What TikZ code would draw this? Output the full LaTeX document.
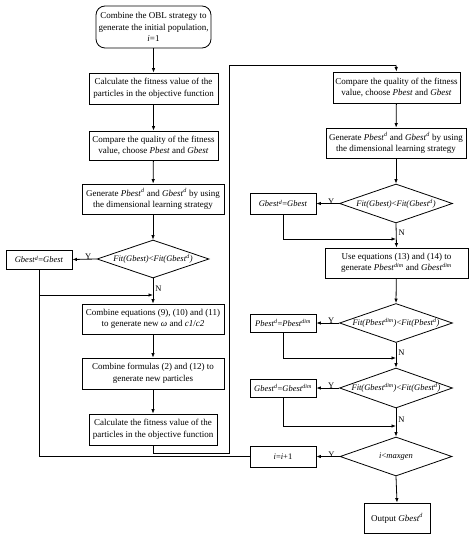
\documentclass[tikz,border=0pt]{standalone}
\usepackage{fontspec}
\setmainfont{Liberation Serif}
\usetikzlibrary{shapes.geometric,arrows.meta}
\newcommand{\ib}[1]{\textit{#1}}
\newcommand{\sps}[1]{\textsuperscript{\textit{#1}}}
\begin{document}
\begin{tikzpicture}[x=1pt,y=-1pt,
  every node/.style={font=\fontsize{9}{11.5}\selectfont, inner sep=0pt},
  box/.style={draw, line width=0.8pt, rectangle, align=center},
  sbox/.style={box, font=\fontsize{8.5}{10}\selectfont},
  dia/.style={draw, line width=0.8pt, diamond, inner sep=0pt, aspect=3},
  dtext/.style={font=\fontsize{8.5}{10}\selectfont},
  lab/.style={font=\fontsize{8.5}{10}\selectfont},
  arr/.style={line width=0.8pt, -{Latex[length=4.5pt,width=3.5pt]}},
  ln/.style={line width=0.8pt}]
\useasboundingbox (0,0) rectangle (474,540);
\fill[white] (0,0) rectangle (474,540);
% left column
\node[box, rounded corners=9pt, minimum width=115pt, minimum height=42pt] (start) at (153.5,27) {Combine the OBL strategy to\\generate the initial population,\\\ib{i}=1};
\node[box, minimum width=129pt, minimum height=31pt] (calc1) at (153.5,88.5) {Calculate the fitness value of the\\particles in the objective function};
\node[box, minimum width=129pt, minimum height=29pt] (cmp1) at (153.5,145.5) {Compare the quality of the fitness\\value, choose \ib{Pbest} and \ib{Gbest}};
\node[box, minimum width=142pt, minimum height=30pt] (gen1) at (153,199) {Generate \ib{Pbest}\sps{d} and \ib{Gbest}\sps{d} by using\\the dimensional learning strategy};
\node[dia, minimum width=112pt, minimum height=38pt] (dia1) at (153,259) {};
\node[dtext] at (dia1.center) {\ib{Fit(Gbest)}<\ib{Fit(Gbest}\sps{d}\ib{)}};
\node[sbox, minimum width=66pt, minimum height=19pt] (gb1) at (39,259.5) {\ib{Gbest}\sps{d}=\ib{Gbest}};
\node[box, minimum width=142pt, minimum height=30pt] (comb1) at (153,319) {Combine equations (9), (10) and (11)\\to generate new \ib{ω} and \ib{c1}/\ib{c2}};
\node[box, minimum width=142pt, minimum height=31pt] (comb2) at (153,373.5) {Combine formulas (2) and (12) to\\generate new particles};
\node[box, minimum width=128pt, minimum height=31pt] (calc2) at (153,429.5) {Calculate the fitness value of the\\particles in the objective function};
% right column
\node[box, minimum width=127pt, minimum height=31pt] (cmp2) at (396.5,87.5) {Compare the quality of the fitness\\value, choose \ib{Pbest} and \ib{Gbest}};
\node[box, minimum width=140pt, minimum height=30pt] (gen2) at (396,143) {Generate \ib{Pbest}\sps{d} and \ib{Gbest}\sps{d} by using\\the dimensional learning strategy};
\node[dia, minimum width=113pt, minimum height=39pt] (dia2) at (396,203.5) {};
\node[dtext] at (dia2.center) {\ib{Fit(Gbest)}<\ib{Fit(Gbest}\sps{d}\ib{)}};
\node[sbox, minimum width=66pt, minimum height=21pt] (gb2) at (283,203.5) {\ib{Gbest}\sps{d}=\ib{Gbest}};
\node[box, minimum width=143pt, minimum height=30pt] (use) at (396.5,263) {Use equations (13) and (14) to\\generate \ib{Pbest}\sps{dim} and \ib{Gbest}\sps{dim}};
\node[dia, minimum width=113pt, minimum height=39pt] (dia3) at (396,323) {};
\node[dtext] at (dia3.center) {\ib{Fit(Pbest}\sps{dim}\ib{)}<\ib{Fit(Pbest}\sps{d}\ib{)}};
\node[sbox, minimum width=66pt, minimum height=18pt] (pb) at (283,323) {\ib{Pbest}\sps{d}=\ib{Pbest}\sps{dim}};
\node[dia, minimum width=113pt, minimum height=40pt] (dia4) at (396,388) {};
\node[dtext] at (dia4.center) {\ib{Fit(Gbest}\sps{dim}\ib{)}<\ib{Fit(Gbest}\sps{d}\ib{)}};
\node[sbox, minimum width=66pt, minimum height=18pt] (gb3) at (283,388) {\ib{Gbest}\sps{d}=\ib{Gbest}\sps{dim}};
\node[dia, minimum width=112pt, minimum height=39pt] (dia5) at (396,456.5) {};
\node[dtext] at (dia5.center) {\ib{i}<\ib{maxgen}};
\node[sbox, minimum width=66pt, minimum height=21pt] (inc) at (283,456.5) {\ib{i}=\ib{i}+1};
\node[box, minimum width=66pt, minimum height=30pt] (out) at (397,518) {Output \ib{Gbest}\sps{d}};
% coordinates
\coordinate (j1) at (153,295);
\coordinate (l1) at (39,295);
\coordinate (l2) at (39,456.5);
\coordinate (b1) at (153,453);
\coordinate (b2) at (229,453);
\coordinate (t1) at (229,65);
\coordinate (t2) at (396,65);
\coordinate (j2) at (396,239);
\coordinate (j3) at (396,358);
\coordinate (j4) at (396,426);
% left connectors
\draw[arr] (start) -- (calc1);
\draw[arr] (calc1) -- (cmp1);
\draw[arr] (cmp1) -- (gen1);
\draw[arr] (gen1) -- (dia1.north);
\draw[arr] (dia1.west) -- node[lab, above, pos=0.35, yshift=-1pt] {Y} (gb1.east);
\draw[arr] (dia1.south) -- node[lab, right, pos=0.4, xshift=2pt] {N} (comb1.north);
\draw[ln] (gb1.south) -- (l1);
\draw[arr] (l1) -- (j1);
\draw[ln] (inc.west) -- (l2) -- (l1);
\draw[arr] (comb1) -- (comb2);
\draw[arr] (comb2) -- (calc2);
\draw[ln] (calc2.south) -- (b1) -- (b2) -- (t1) -- (t2);
\draw[arr] (t2) -- (cmp2.north);
% right connectors
\draw[arr] (cmp2) -- (gen2);
\draw[arr] (gen2) -- (dia2.north);
\draw[arr] (dia2.west) -- node[lab, above, pos=0.35, yshift=-1pt] {Y} (gb2.east);
\draw[arr] (dia2.south) -- node[lab, right, pos=0.4, xshift=2pt] {N} (use.north);
\draw[ln] (gb2.south) -- (gb2.south |- j2);
\draw[arr] (gb2.south |- j2) -- (j2);
\draw[arr] (use) -- (dia3.north);
\draw[arr] (dia3.west) -- node[lab, above, pos=0.35, yshift=-1pt] {Y} (pb.east);
\draw[arr] (dia3.south) -- node[lab, right, pos=0.4, xshift=2pt] {N} (dia4.north);
\draw[ln] (pb.south) -- (pb.south |- j3);
\draw[arr] (pb.south |- j3) -- (j3);
\draw[arr] (dia4.west) -- node[lab, above, pos=0.35, yshift=-1pt] {Y} (gb3.east);
\draw[arr] (dia4.south) -- node[lab, right, pos=0.4, xshift=2pt] {N} (dia5.north);
\draw[ln] (gb3.south) -- (gb3.south |- j4);
\draw[arr] (gb3.south |- j4) -- (j4);
\draw[arr] (dia5.west) -- node[lab, above, pos=0.35, yshift=-1pt] {Y} (inc.east);
\draw[arr] (dia5.south) -- (out.north);
\end{tikzpicture}
\end{document}
